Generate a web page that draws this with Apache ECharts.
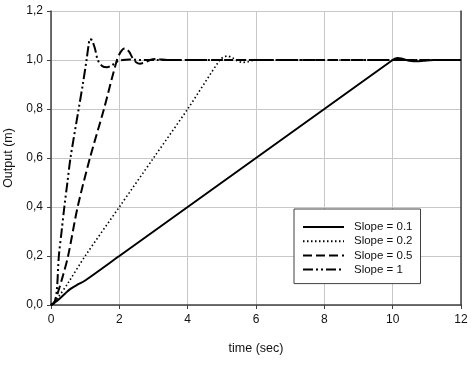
<!DOCTYPE html>
<html>
<head>
<meta charset="utf-8">
<script src="https://cdn.jsdelivr.net/npm/echarts@6/dist/echarts.min.js"></script>
<style>html,body{margin:0;padding:0;background:#fff}#c{width:474px;height:365px}</style>
</head>
<body>
<div id="c"></div>
<script>
// ---- data ----
const seriesNames = ['Slope = 0.1', 'Slope = 0.2', 'Slope = 0.5', 'Slope = 1'];

const t01 = [0, 0.2, 0.4, 0.56, 0.8, 1, 2, 4, 6, 8, 10, 10.08, 10.15, 10.25, 10.4, 10.55, 10.7, 10.9, 11.2, 11.6, 12];
const y01 = [0, 0.02, 0.045, 0.065, 0.085, 0.1, 0.2, 0.4, 0.6, 0.8, 1.0, 1.006, 1.008, 1.006, 1.0, 0.996, 0.995, 0.997, 1.0, 1.0, 1.0];

const t02 = [0, 0.2, 0.5, 1, 2, 3, 4, 4.94, 5.05, 5.15, 5.3, 5.45, 5.6, 5.75, 5.9, 6.2, 6.6, 7, 12];
const y02 = [0, 0.03, 0.09, 0.2, 0.4, 0.6, 0.8, 1.0, 1.012, 1.016, 1.01, 0.997, 0.99, 0.992, 0.998, 1.0, 1.0, 1.0, 1.0];

const t05 = [0, 0.1, 0.2, 0.35, 0.5, 0.78, 1.14, 1.55, 1.93, 2.05, 2.16, 2.28, 2.4, 2.5, 2.6, 2.75, 2.9, 3.1, 3.4, 3.8, 12];
const y05 = [0, 0.01, 0.05, 0.12, 0.2, 0.4, 0.6, 0.8, 1.0, 1.035, 1.048, 1.035, 1.005, 0.99, 0.985, 0.99, 1.0, 1.004, 1.0, 1.0, 1.0];

const t1 = [0, 0.1, 0.17, 0.23, 0.31, 0.39, 0.48, 0.57, 0.81, 0.93, 1.04, 1.1, 1.14, 1.2, 1.28, 1.37, 1.5, 1.64, 1.8, 1.95, 2.1, 2.3, 2.6, 3, 12];
const y1 = [0, 0.01, 0.06, 0.2, 0.3, 0.4, 0.5, 0.6, 0.8, 0.9, 1.0, 1.06, 1.086, 1.08, 1.05, 1.0, 0.975, 0.97, 0.98, 0.995, 1.0, 1.002, 1.0, 1.0, 1.0];

const xTickLabels = ['0', '2', '4', '6', '8', '10', '12'];
const yTickLabels = ['0,0', '0,2', '0,4', '0,6', '0,8', '1,0', '1,2'];

const xName = 'time (sec)';
const yName = 'Output (m)';

// ---- chart ----
const pairs = (t, y) => t.map((v, i) => [v, y[i]]);
const font = 'Liberation Sans, Arial, sans-serif';
const gridColor = '#c8c8c8';
const axisColor = '#404040';

const styles = [
  { type: 'solid', width: 2 },
  { type: [1.5, 2.5], width: 1.6 },
  { type: [9, 4], width: 2 },
  { type: [10, 3, 2, 3, 2, 3], width: 2 }
];
const datas = [pairs(t01, y01), pairs(t02, y02), pairs(t05, y05), pairs(t1, y1)];

const chart = echarts.init(document.getElementById('c'), null, { renderer: 'canvas' });
chart.setOption({
  animation: false,
  backgroundColor: '#fff',
  textStyle: { fontFamily: font },
  grid: { left: 51, right: 13, top: 11, bottom: 60, containLabel: false, outerBoundsMode: 'none' },
  legend: {
    orient: 'vertical',
    left: 294, top: 209,
    padding: [12, 8, 8, 8],
    itemWidth: 41, itemHeight: 14, itemGap: 2.2,
    backgroundColor: '#fff',
    borderColor: '#404040', borderWidth: 1, borderRadius: 0,
    itemStyle: { opacity: 0 },
    textStyle: { fontSize: 11.5, color: '#111', fontFamily: font, padding: [0, 0, 0, 5] },
    data: seriesNames
  },
  xAxis: {
    type: 'value', min: 0, max: 12, interval: 2,
    name: xName, nameLocation: 'middle', nameGap: 37,
    nameTextStyle: { fontSize: 12.5, color: '#111', fontFamily: font },
    axisLine: { show: true, lineStyle: { color: axisColor, width: 1.5 } },
    axisTick: { show: true, length: 4, inside: false, lineStyle: { color: axisColor } },
    axisLabel: { margin: 9, fontSize: 12, color: '#111', fontFamily: font,
      formatter: (v) => xTickLabels[Math.round(v / 2)] },
    splitLine: { show: true, lineStyle: { color: gridColor, width: 1 } }
  },
  yAxis: [{
    type: 'value', min: 0, max: 1.2, interval: 0.2,
    name: yName, nameLocation: 'middle', nameGap: 36, nameRotate: 90,
    nameTextStyle: { fontSize: 12.5, color: '#111', fontFamily: font },
    axisLine: { show: true, lineStyle: { color: axisColor, width: 1.5 } },
    axisTick: { show: true, length: 4, lineStyle: { color: axisColor } },
    axisLabel: { margin: 8, fontSize: 12, color: '#111', fontFamily: font,
      formatter: (v) => yTickLabels[Math.round(v / 0.2)] },
    splitLine: { show: true, lineStyle: { color: gridColor, width: 1 } }
  }, {
    type: 'value', min: 0, max: 1.2, interval: 0.2, position: 'right',
    axisLine: { show: true, lineStyle: { color: axisColor, width: 1.5 } },
    axisTick: { show: false }, axisLabel: { show: false }, splitLine: { show: false }
  }],
  series: seriesNames.map((n, i) => ({
    name: n, type: 'line', data: datas[i], yAxisIndex: 0,
    showSymbol: false, symbol: 'none', smooth: 0.3,
    lineStyle: Object.assign({ color: '#000' }, styles[i]),
    itemStyle: { color: '#000' }
  }))
});
</script>
</body>
</html>
